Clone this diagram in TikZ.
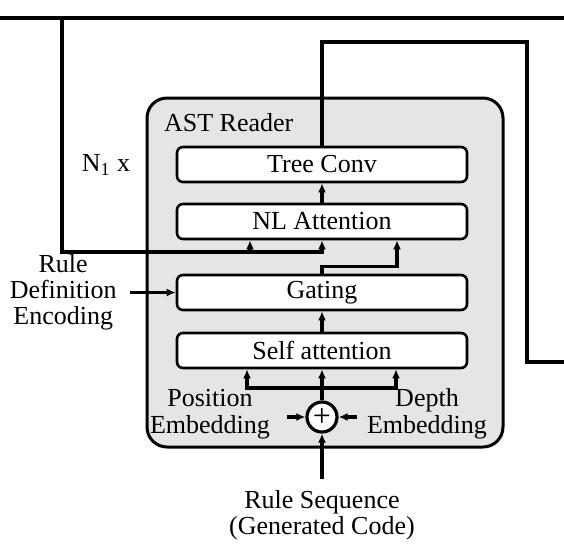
\documentclass[tikz,border=0pt]{standalone}
\usepackage{fontspec}
\setmainfont{Liberation Serif}
\usetikzlibrary{arrows.meta,positioning,calc}

\begin{document}
\begin{tikzpicture}[
    x=0.5pt, y=-0.5pt,
    font=\fontsize{13}{13}\selectfont,
    box/.style={rectangle, draw, rounded corners=3pt, line width=1.3pt, fill=white, minimum width=145pt, minimum height=17.5pt, inner sep=0pt, align=center},
    reader/.style={rectangle, draw, rounded corners=10pt, line width=1.5pt, fill=black!10, minimum width=178pt, minimum height=174.5pt},
    line/.style={line width=1.6pt},
    arrow/.style={-{Latex[length=4.5pt,width=4pt]}, line width=1.6pt}
]
    \useasboundingbox (0,0) rectangle (564,554);

    % reader block and its layers
    \node[reader] (ast) at (325,272.5) {};
    \node[anchor=west] (title) at (157,123) {AST Reader};
    \node[box] (tc) at (322,164.5) {Tree Conv};
    \node[box, below=9.7pt of tc] (nl) {NL Attention};
    \node[box, below=16.7pt of nl] (gate) {Gating};
    \node[box, below=10.2pt of gate] (sa) {Self attention};
    \node[circle, draw, line width=1.6pt, fill=white, minimum size=15pt, inner sep=0pt, font=\fontsize{16}{16}\selectfont] (plus) at (322,417) {+};

    % side labels
    \node (nx) at (106,165) {N\textsubscript{1} x};
    \node[align=center, left=26pt of gate] (rde) {Rule\\Definition\\Encoding};
    \node[align=center] (pe) at (210,414) {Position\\[0.5pt]Embedding};
    \node[align=center] (de) at (427,414) {Depth\\[0.5pt]Embedding};
    \node[align=center] (rs) at (322,515) {Rule Sequence\\(Generated Code)};

    % free ends and bends
    \coordinate (topL) at (0,18);
    \coordinate (topR) at (564,18);
    \coordinate (loopL) at (62,18);
    \coordinate (fb) at (322,252);
    \coordinate (fbL) at (250,252);
    \coordinate (outTop) at (527,42);
    \coordinate (outR) at (564,362);
    \coordinate (saL) at (247,388);
    \coordinate (saR) at (396,388);
    \coordinate (peA) at ([xshift=5pt]pe.east);
    \coordinate (deA) at ([xshift=-1.5pt]de.west);

    \draw[line] (topL) -- (topR);
    \draw[arrow] (loopL) |- (fb) -- (nl.south);
    \draw[arrow] (fbL) -- (fbL |- nl.south);
    \draw[arrow] (gate.north) -- ++(0,-7) -| ([xshift=37.5pt]nl.south);
    \draw[arrow] (nl) -- (tc);
    \draw[line] (tc.north) |- (outTop) |- (outR);

    \draw[arrow] ([xshift=3pt]rde.east) -- (gate.west);
    \draw[arrow] (sa) -- (gate);
    \draw[arrow] (plus) -- (sa);
    \draw[{Latex[length=4.5pt,width=4pt]}-{Latex[length=4.5pt,width=4pt]}, line] (saL |- sa.south) -- (saL) -- (saR) -- (saR |- sa.south);

    \draw[arrow] (peA |- plus) -- (plus.west);
    \draw[arrow] (deA |- plus) -- (plus.east);
    \draw[arrow] ([yshift=2pt]rs.north) -- (plus.south);
\end{tikzpicture}
\end{document}
